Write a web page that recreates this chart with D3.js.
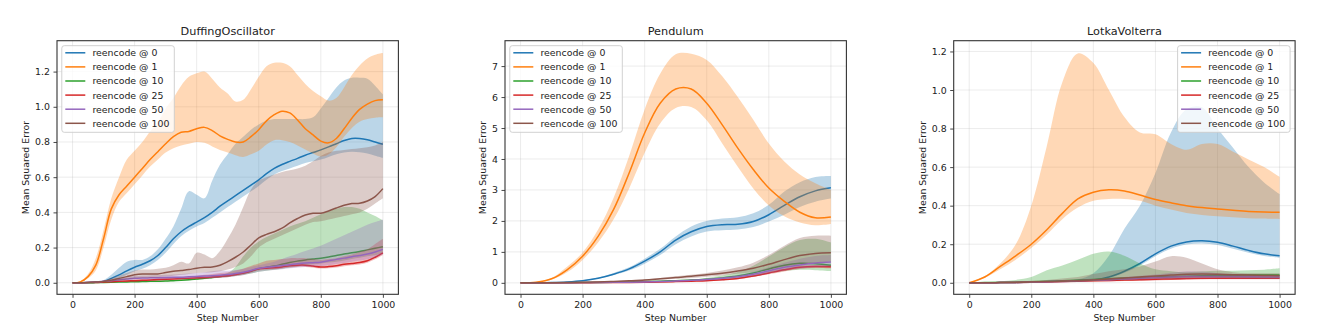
<!DOCTYPE html>
<html>
<head>
<meta charset="utf-8">
<script src="https://cdn.jsdelivr.net/npm/d3@7"></script>
<style>
  html, body { margin: 0; padding: 0; background: #ffffff; }
  svg { display: block; font-family: "DejaVu Sans", sans-serif; }
</style>
</head>
<body>
<svg id="chart" width="1342" height="335"></svg>
<script>
// ---------------- DATA ----------------
const panelTitles = ["DuffingOscillator", "Pendulum", "LotkaVolterra"];
const seriesLabels = ["reencode @ 0", "reencode @ 1", "reencode @ 10", "reencode @ 25", "reencode @ 50", "reencode @ 100"];
const xTicks = [0, 200, 400, 600, 800, 1000];
const xTickLabels = ["0", "200", "400", "600", "800", "1000"];
const xLabel = "Step Number";
const yLabel = "Mean Squared Error";

const duffYTicks = [0, 0.2, 0.4, 0.6, 0.8, 1.0, 1.2];
const duffYTickLabels = ["0.0", "0.2", "0.4", "0.6", "0.8", "1.0", "1.2"];
const pendYTicks = [0, 1, 2, 3, 4, 5, 6, 7];
const pendYTickLabels = ["0", "1", "2", "3", "4", "5", "6", "7"];
const lotYTicks = [0, 0.2, 0.4, 0.6, 0.8, 1.0, 1.2];
const lotYTickLabels = ["0.0", "0.2", "0.4", "0.6", "0.8", "1.0", "1.2"];

// DuffingOscillator (step 25)
const duffSteps = [0,25,50,75,100,125,150,175,200,225,250,275,300,325,350,375,400,425,450,475,500,525,550,575,600,625,650,675,700,725,750,775,800,825,850,875,900,925,950,975,1000];
const duffMean0 = [0,0,0.001,0.003,0.008,0.025,0.045,0.068,0.088,0.105,0.125,0.155,0.2,0.25,0.29,0.32,0.345,0.37,0.4,0.435,0.465,0.495,0.525,0.555,0.585,0.62,0.65,0.672,0.69,0.707,0.725,0.74,0.755,0.772,0.79,0.808,0.82,0.82,0.813,0.8,0.787];
const duffHi0   = [0,0,0.002,0.005,0.015,0.045,0.085,0.12,0.13,0.13,0.15,0.19,0.25,0.32,0.42,0.52,0.5,0.48,0.58,0.67,0.73,0.79,0.83,0.87,0.9,0.92,0.93,0.93,0.93,0.93,0.93,0.94,0.99,1.05,1.11,1.15,1.165,1.165,1.16,1.12,1.07];
const duffLo0   = [0,0,0.0005,0.002,0.004,0.012,0.025,0.045,0.065,0.08,0.1,0.13,0.17,0.22,0.265,0.295,0.32,0.34,0.37,0.4,0.43,0.46,0.49,0.52,0.55,0.585,0.615,0.635,0.65,0.665,0.68,0.69,0.7,0.715,0.73,0.74,0.745,0.742,0.735,0.722,0.71];
const duffMean1 = [0,0.005,0.035,0.1,0.25,0.42,0.5,0.55,0.6,0.65,0.7,0.745,0.79,0.83,0.855,0.86,0.875,0.883,0.865,0.835,0.815,0.8,0.8,0.83,0.87,0.92,0.955,0.975,0.965,0.925,0.875,0.84,0.805,0.795,0.82,0.875,0.935,0.985,1.015,1.035,1.04];
const duffHi1   = [0,0.008,0.05,0.14,0.3,0.48,0.6,0.7,0.75,0.8,0.86,0.91,0.99,1.05,1.12,1.17,1.19,1.2,1.16,1.11,1.075,1.03,1.04,1.1,1.17,1.23,1.25,1.25,1.23,1.18,1.13,1.09,1.06,1.035,1.05,1.11,1.18,1.235,1.275,1.295,1.305];
const duffLo1   = [0,0.003,0.025,0.07,0.2,0.36,0.46,0.51,0.56,0.61,0.66,0.7,0.74,0.765,0.78,0.79,0.8,0.795,0.775,0.755,0.74,0.725,0.715,0.73,0.75,0.785,0.81,0.81,0.8,0.78,0.757,0.735,0.717,0.73,0.77,0.83,0.88,0.915,0.93,0.938,0.94];
const duffMean10 = [0,0,0,0.001,0.002,0.003,0.004,0.005,0.006,0.007,0.008,0.009,0.01,0.012,0.014,0.017,0.021,0.025,0.03,0.035,0.04,0.047,0.055,0.066,0.08,0.088,0.095,0.105,0.115,0.123,0.13,0.135,0.14,0.147,0.155,0.163,0.17,0.178,0.187,0.196,0.205];
const duffHi10   = [0,0,0,0.002,0.003,0.004,0.005,0.006,0.008,0.009,0.01,0.011,0.013,0.015,0.018,0.021,0.026,0.031,0.037,0.043,0.055,0.09,0.15,0.2,0.235,0.26,0.28,0.3,0.32,0.335,0.35,0.37,0.39,0.405,0.42,0.43,0.43,0.42,0.4,0.38,0.355];
const duffLo10   = [0,0,0,0.0005,0.001,0.002,0.003,0.004,0.005,0.006,0.007,0.008,0.008,0.01,0.012,0.014,0.017,0.02,0.025,0.029,0.033,0.038,0.044,0.052,0.062,0.068,0.074,0.08,0.087,0.093,0.1,0.105,0.11,0.115,0.12,0.127,0.135,0.142,0.15,0.157,0.165];
const duffMean25 = [0,0,0.001,0.002,0.004,0.006,0.008,0.01,0.012,0.014,0.016,0.018,0.02,0.022,0.024,0.026,0.028,0.03,0.033,0.036,0.04,0.047,0.055,0.067,0.08,0.083,0.085,0.09,0.097,0.1,0.1,0.095,0.09,0.092,0.097,0.105,0.11,0.115,0.125,0.145,0.17];
const duffHi25   = [0,0,0.002,0.004,0.007,0.01,0.013,0.016,0.02,0.022,0.024,0.026,0.028,0.03,0.033,0.036,0.04,0.045,0.05,0.055,0.06,0.07,0.08,0.095,0.11,0.125,0.13,0.135,0.14,0.14,0.14,0.135,0.13,0.135,0.14,0.15,0.16,0.175,0.19,0.22,0.25];
const duffLo25   = [0,0,0.0005,0.001,0.002,0.003,0.004,0.005,0.006,0.008,0.01,0.012,0.014,0.016,0.018,0.02,0.022,0.024,0.026,0.029,0.032,0.038,0.045,0.057,0.07,0.074,0.077,0.081,0.087,0.09,0.09,0.086,0.081,0.083,0.087,0.094,0.099,0.104,0.114,0.133,0.158];
const duffMean50 = [0,0,0.002,0.005,0.008,0.012,0.017,0.021,0.025,0.027,0.028,0.029,0.03,0.031,0.032,0.034,0.036,0.038,0.04,0.043,0.047,0.053,0.06,0.07,0.082,0.088,0.093,0.098,0.103,0.108,0.112,0.114,0.117,0.125,0.133,0.14,0.148,0.155,0.163,0.175,0.19];
const duffHi50   = [0,0,0.003,0.007,0.012,0.018,0.025,0.032,0.038,0.04,0.042,0.043,0.045,0.047,0.05,0.052,0.055,0.06,0.065,0.07,0.068,0.072,0.08,0.09,0.1,0.11,0.12,0.135,0.15,0.165,0.18,0.195,0.21,0.23,0.25,0.27,0.29,0.31,0.33,0.345,0.36];
const duffLo50   = [0,0,0.001,0.003,0.005,0.008,0.011,0.014,0.017,0.018,0.019,0.02,0.02,0.021,0.022,0.023,0.024,0.025,0.027,0.029,0.032,0.037,0.043,0.052,0.062,0.068,0.072,0.077,0.082,0.087,0.09,0.093,0.095,0.1,0.107,0.113,0.12,0.127,0.134,0.145,0.16];
const duffMean100 = [0,0,0.002,0.004,0.007,0.015,0.025,0.035,0.045,0.05,0.05,0.05,0.058,0.065,0.07,0.075,0.083,0.088,0.09,0.1,0.12,0.145,0.175,0.215,0.255,0.275,0.29,0.31,0.34,0.365,0.385,0.395,0.395,0.408,0.425,0.44,0.45,0.452,0.465,0.49,0.535];
const duffHi100   = [0,0.001,0.004,0.008,0.012,0.025,0.04,0.055,0.07,0.075,0.075,0.08,0.085,0.1,0.12,0.11,0.17,0.16,0.14,0.18,0.25,0.33,0.43,0.53,0.58,0.6,0.615,0.63,0.64,0.65,0.665,0.69,0.72,0.74,0.75,0.755,0.76,0.765,0.77,0.78,0.8];
const duffLo100   = [0,0,0.001,0.002,0.004,0.008,0.012,0.018,0.025,0.028,0.03,0.032,0.035,0.04,0.045,0.05,0.055,0.058,0.06,0.065,0.075,0.09,0.11,0.15,0.2,0.23,0.25,0.27,0.29,0.31,0.33,0.345,0.35,0.36,0.37,0.38,0.39,0.4,0.42,0.45,0.48];

// Pendulum (step 50)
const pendSteps = [0,50,100,150,200,250,300,350,400,450,500,550,600,650,700,750,800,850,900,950,1000];
const pendMean0 = [0,0.002,0.01,0.03,0.07,0.15,0.28,0.45,0.7,1.0,1.38,1.65,1.82,1.88,1.89,1.98,2.2,2.5,2.78,2.97,3.07];
const pendHi0   = [0,0.003,0.012,0.035,0.08,0.17,0.32,0.5,0.78,1.1,1.5,1.82,2.0,2.08,2.12,2.25,2.52,2.95,3.25,3.42,3.45];
const pendLo0   = [0,0.001,0.008,0.025,0.06,0.13,0.25,0.4,0.62,0.9,1.25,1.5,1.66,1.7,1.72,1.8,1.98,2.2,2.45,2.62,2.72];
const pendMean1 = [0,0.02,0.13,0.42,0.86,1.5,2.37,3.55,4.84,5.8,6.26,6.26,5.8,5.1,4.35,3.66,3.06,2.63,2.28,2.1,2.13];
const pendHi1   = [0,0.025,0.16,0.52,0.98,1.72,2.75,4.1,5.6,6.75,7.38,7.4,7.2,6.67,6.0,5.27,4.5,3.92,3.5,3.22,3.0];
const pendLo1   = [0,0.015,0.1,0.34,0.74,1.3,2.05,3.05,4.2,5.15,5.65,5.68,5.25,4.5,3.75,3.05,2.5,2.15,1.95,1.86,1.9];
const pendMean10 = [0,0,0.002,0.005,0.01,0.015,0.02,0.03,0.04,0.055,0.07,0.09,0.12,0.16,0.22,0.32,0.45,0.57,0.63,0.62,0.57];
const pendHi10   = [0,0,0.003,0.006,0.012,0.018,0.025,0.035,0.05,0.065,0.085,0.11,0.16,0.24,0.35,0.55,0.85,1.15,1.38,1.42,1.3];
const pendLo10   = [0,0,0.001,0.004,0.008,0.011,0.015,0.022,0.03,0.04,0.052,0.065,0.085,0.11,0.15,0.21,0.3,0.38,0.42,0.41,0.38];
const pendMean25 = [0,0,0.001,0.003,0.005,0.008,0.01,0.014,0.02,0.03,0.04,0.055,0.07,0.1,0.14,0.22,0.32,0.42,0.5,0.53,0.52];
const pendHi25   = [0,0,0.002,0.004,0.007,0.01,0.013,0.018,0.025,0.037,0.05,0.068,0.09,0.125,0.18,0.27,0.38,0.48,0.56,0.58,0.57];
const pendLo25   = [0,0,0.0005,0.002,0.004,0.006,0.008,0.011,0.016,0.025,0.033,0.045,0.058,0.085,0.12,0.19,0.28,0.37,0.45,0.48,0.47];
const pendMean50 = [0,0,0.002,0.005,0.008,0.012,0.017,0.022,0.03,0.045,0.06,0.08,0.11,0.15,0.2,0.28,0.39,0.5,0.58,0.64,0.67];
const pendHi50   = [0,0,0.003,0.006,0.01,0.015,0.02,0.027,0.037,0.055,0.075,0.1,0.14,0.19,0.26,0.36,0.5,0.65,0.78,0.87,0.9];
const pendLo50   = [0,0,0.001,0.004,0.006,0.009,0.013,0.017,0.024,0.036,0.048,0.064,0.088,0.12,0.16,0.22,0.31,0.4,0.46,0.5,0.52];
const pendMean100 = [0,0.001,0.004,0.01,0.02,0.03,0.045,0.065,0.09,0.13,0.17,0.21,0.26,0.31,0.38,0.47,0.6,0.75,0.88,0.95,0.97];
const pendHi100   = [0,0.002,0.006,0.013,0.025,0.038,0.055,0.08,0.11,0.16,0.21,0.26,0.32,0.4,0.5,0.65,0.9,1.2,1.45,1.52,1.52];
const pendLo100   = [0,0.0005,0.002,0.007,0.015,0.022,0.035,0.05,0.07,0.1,0.13,0.16,0.2,0.24,0.29,0.35,0.42,0.52,0.6,0.66,0.7];

// LotkaVolterra (step 50)
const lotSteps = [0,50,100,150,200,250,300,350,400,450,500,550,600,650,700,750,800,850,900,950,1000];
const lotMean0 = [0,0,0.001,0.002,0.004,0.006,0.009,0.012,0.015,0.03,0.06,0.1,0.15,0.19,0.212,0.218,0.21,0.19,0.168,0.15,0.14];
const lotHi0   = [0,0,0.002,0.003,0.005,0.008,0.012,0.018,0.05,0.14,0.28,0.4,0.57,0.78,0.9,0.91,0.8,0.7,0.6,0.52,0.46];
const lotLo0   = [0,0,0.0005,0.001,0.003,0.004,0.007,0.009,0.012,0.025,0.052,0.09,0.138,0.177,0.198,0.204,0.196,0.177,0.156,0.139,0.13];
const lotMean1 = [0,0.03,0.085,0.14,0.2,0.275,0.36,0.435,0.47,0.482,0.476,0.455,0.432,0.415,0.4,0.39,0.383,0.376,0.37,0.367,0.366];
const lotHi1   = [0,0.035,0.1,0.2,0.4,0.71,1.04,1.19,1.14,1.0,0.86,0.78,0.77,0.72,0.69,0.72,0.72,0.68,0.64,0.6,0.55];
const lotLo1   = [0,0.025,0.07,0.12,0.18,0.25,0.33,0.39,0.425,0.435,0.435,0.425,0.4,0.38,0.362,0.352,0.345,0.34,0.335,0.333,0.33];
const lotMean10 = [0,0.001,0.002,0.003,0.005,0.007,0.01,0.013,0.017,0.021,0.025,0.028,0.03,0.032,0.034,0.036,0.038,0.039,0.04,0.04,0.04];
const lotHi10   = [0,0.003,0.008,0.015,0.03,0.065,0.09,0.12,0.15,0.162,0.14,0.1,0.07,0.06,0.055,0.058,0.062,0.063,0.065,0.068,0.075];
const lotLo10   = [0,0,0.001,0.001,0.002,0.003,0.004,0.006,0.008,0.01,0.012,0.014,0.016,0.018,0.02,0.022,0.024,0.025,0.026,0.026,0.026];
const lotMean25 = [0,0,0.001,0.002,0.003,0.004,0.006,0.008,0.01,0.012,0.014,0.016,0.018,0.02,0.022,0.023,0.024,0.024,0.024,0.024,0.024];
const lotHi25   = [0,0,0.002,0.004,0.006,0.008,0.011,0.014,0.017,0.02,0.022,0.024,0.026,0.028,0.03,0.031,0.032,0.032,0.032,0.032,0.032];
const lotLo25   = [0,0,0.0005,0.001,0.002,0.002,0.003,0.005,0.006,0.007,0.009,0.01,0.012,0.014,0.016,0.017,0.018,0.018,0.018,0.018,0.018];
const lotMean50 = [0,0,0.001,0.002,0.003,0.005,0.007,0.01,0.013,0.016,0.02,0.024,0.027,0.03,0.032,0.033,0.033,0.032,0.031,0.03,0.03];
const lotHi50   = [0,0,0.002,0.004,0.006,0.009,0.012,0.016,0.02,0.025,0.03,0.036,0.043,0.052,0.06,0.058,0.05,0.045,0.042,0.04,0.04];
const lotLo50   = [0,0,0.0005,0.001,0.002,0.003,0.005,0.007,0.009,0.011,0.014,0.017,0.019,0.021,0.022,0.023,0.023,0.022,0.022,0.021,0.021];
const lotMean100 = [0,0,0.001,0.002,0.004,0.006,0.008,0.011,0.015,0.02,0.025,0.03,0.035,0.04,0.044,0.045,0.044,0.042,0.04,0.038,0.036];
const lotHi100   = [0,0.001,0.003,0.006,0.01,0.015,0.022,0.03,0.045,0.06,0.07,0.085,0.11,0.138,0.13,0.1,0.07,0.055,0.05,0.05,0.05];
const lotLo100   = [0,0,0.0005,0.001,0.002,0.004,0.005,0.007,0.009,0.012,0.015,0.018,0.021,0.024,0.026,0.027,0.026,0.025,0.024,0.023,0.022];

// ---------------- STYLE / LAYOUT ----------------
const seriesColors = ["#1f77b4", "#ff7f0e", "#2ca02c", "#d62728", "#9467bd", "#8c564b"];
const fontFamily = "DejaVu Sans, sans-serif";
const baseFont = 9.4;

const panels = [
  { title: panelTitles[0], steps: duffSteps,
    mean: [duffMean0, duffMean1, duffMean10, duffMean25, duffMean50, duffMean100],
    hi:   [duffHi0, duffHi1, duffHi10, duffHi25, duffHi50, duffHi100],
    lo:   [duffLo0, duffLo1, duffLo10, duffLo25, duffLo50, duffLo100],
    yTicks: duffYTicks, yTickLabels: duffYTickLabels,
    left: 57, yDomain: [-0.0655, 1.3755], legendRight: false, yLabelOffset: 28.5 },
  { title: panelTitles[1], steps: pendSteps,
    mean: [pendMean0, pendMean1, pendMean10, pendMean25, pendMean50, pendMean100],
    hi:   [pendHi0, pendHi1, pendHi10, pendHi25, pendHi50, pendHi100],
    lo:   [pendLo0, pendLo1, pendLo10, pendLo25, pendLo50, pendLo100],
    yTicks: pendYTicks, yTickLabels: pendYTickLabels,
    left: 505, yDomain: [-0.37, 7.82], legendRight: false, yLabelOffset: 18.8 },
  { title: panelTitles[2], steps: lotSteps,
    mean: [lotMean0, lotMean1, lotMean10, lotMean25, lotMean50, lotMean100],
    hi:   [lotHi0, lotHi1, lotHi10, lotHi25, lotHi50, lotHi100],
    lo:   [lotLo0, lotLo1, lotLo10, lotLo25, lotLo50, lotLo100],
    yTicks: lotYTicks, yTickLabels: lotYTickLabels,
    left: 953.7, yDomain: [-0.0598, 1.2558], legendRight: true, yLabelOffset: 27.5 }
];

const TOP = 40.7, W = 341.4, H = 253.6;

const svg = d3.select("#chart");
svg.append("rect").attr("width", 1342).attr("height", 335).attr("fill", "#ffffff");

panels.forEach((p, pi) => {
  const x = d3.scaleLinear().domain([-50, 1050]).range([p.left, p.left + W]);
  const y = d3.scaleLinear().domain(p.yDomain).range([TOP + H, TOP]);
  const g = svg.append("g");

  const clipId = "clip" + pi;
  svg.append("clipPath").attr("id", clipId).append("rect")
    .attr("x", p.left).attr("y", TOP).attr("width", W).attr("height", H);

  // grid
  const grid = g.append("g");
  xTicks.forEach(t => grid.append("line")
    .attr("x1", x(t)).attr("x2", x(t)).attr("y1", TOP).attr("y2", TOP + H)
    .attr("stroke", "#b0b0b0").attr("stroke-opacity", 0.3).attr("stroke-width", 0.8));
  p.yTicks.forEach(t => grid.append("line")
    .attr("x1", p.left).attr("x2", p.left + W).attr("y1", y(t)).attr("y2", y(t))
    .attr("stroke", "#b0b0b0").attr("stroke-opacity", 0.3).attr("stroke-width", 0.8));

  const plot = g.append("g").attr("clip-path", `url(#${clipId})`);
  const curve = d3.curveCatmullRom.alpha(0.5);

  seriesLabels.forEach((lab, k) => {
    const rows = p.steps.map((s, j) => ({ s, m: p.mean[k][j], lo: p.lo[k][j], hi: p.hi[k][j] }));
    const area = d3.area().x(d => x(d.s)).y0(d => y(d.lo)).y1(d => y(d.hi)).curve(curve);
    const line = d3.line().x(d => x(d.s)).y(d => y(d.m)).curve(curve);
    plot.append("path").datum(rows).attr("d", area)
      .attr("fill", seriesColors[k]).attr("fill-opacity", 0.3).attr("stroke", "none");
    plot.append("path").datum(rows).attr("d", line)
      .attr("fill", "none").attr("stroke", seriesColors[k]).attr("stroke-width", 1.5);
  });

  // axes
  const xAxis = d3.axisBottom(x).tickValues(xTicks).tickFormat((d, j) => xTickLabels[j])
    .tickSize(3.5).tickPadding(3.5);
  const gx = g.append("g").attr("transform", `translate(0,${TOP + H})`).call(xAxis);
  const yAxis = d3.axisLeft(y).tickValues(p.yTicks).tickFormat((d, j) => p.yTickLabels[j])
    .tickSize(3.5).tickPadding(3.5);
  const gy = g.append("g").attr("transform", `translate(${p.left},0)`).call(yAxis);
  [gx, gy].forEach(a => {
    a.select(".domain").remove();
    a.selectAll(".tick line").attr("stroke", "#333").attr("stroke-width", 0.9);
    a.selectAll(".tick text").attr("fill", "#222").style("font-size", baseFont + "px")
      .style("font-family", fontFamily);
  });

  // frame
  g.append("rect").attr("x", p.left).attr("y", TOP).attr("width", W).attr("height", H)
    .attr("fill", "none").attr("stroke", "#333").attr("stroke-width", 1.1);

  // title and labels
  g.append("text").attr("x", p.left + W / 2).attr("y", 35)
    .attr("text-anchor", "middle").attr("fill", "#222")
    .style("font-size", (baseFont * 1.2) + "px").text(p.title);
  g.append("text").attr("x", p.left + W / 2).attr("y", 321)
    .attr("text-anchor", "middle").attr("fill", "#222")
    .style("font-size", baseFont + "px").text(xLabel);
  g.append("text")
    .attr("transform", `translate(${p.left - p.yLabelOffset},${TOP + H / 2}) rotate(-90)`)
    .attr("text-anchor", "middle").attr("fill", "#222")
    .style("font-size", baseFont + "px").text(yLabel);

  // legend
  const LW = 112.5, LH = 86.6;
  const lx = p.legendRight ? p.left + W - 5 - LW : p.left + 4.8;
  const ly = TOP + 5;
  const lg = g.append("g");
  lg.append("rect").attr("x", lx).attr("y", ly).attr("width", LW).attr("height", LH)
    .attr("rx", 2.5).attr("fill", "#ffffff").attr("fill-opacity", 0.8)
    .attr("stroke", "#cccccc").attr("stroke-width", 0.9);
  seriesLabels.forEach((lab, k) => {
    const ry = ly + 7.1 + k * 14.1;
    lg.append("line").attr("x1", lx + 3.5).attr("x2", lx + 23.5).attr("y1", ry).attr("y2", ry)
      .attr("stroke", seriesColors[k]).attr("stroke-width", 1.5);
    lg.append("text").attr("x", lx + 30.6).attr("y", ry + 3.4).attr("fill", "#222")
      .style("font-size", baseFont + "px").text(lab);
  });
});
</script>
</body>
</html>
